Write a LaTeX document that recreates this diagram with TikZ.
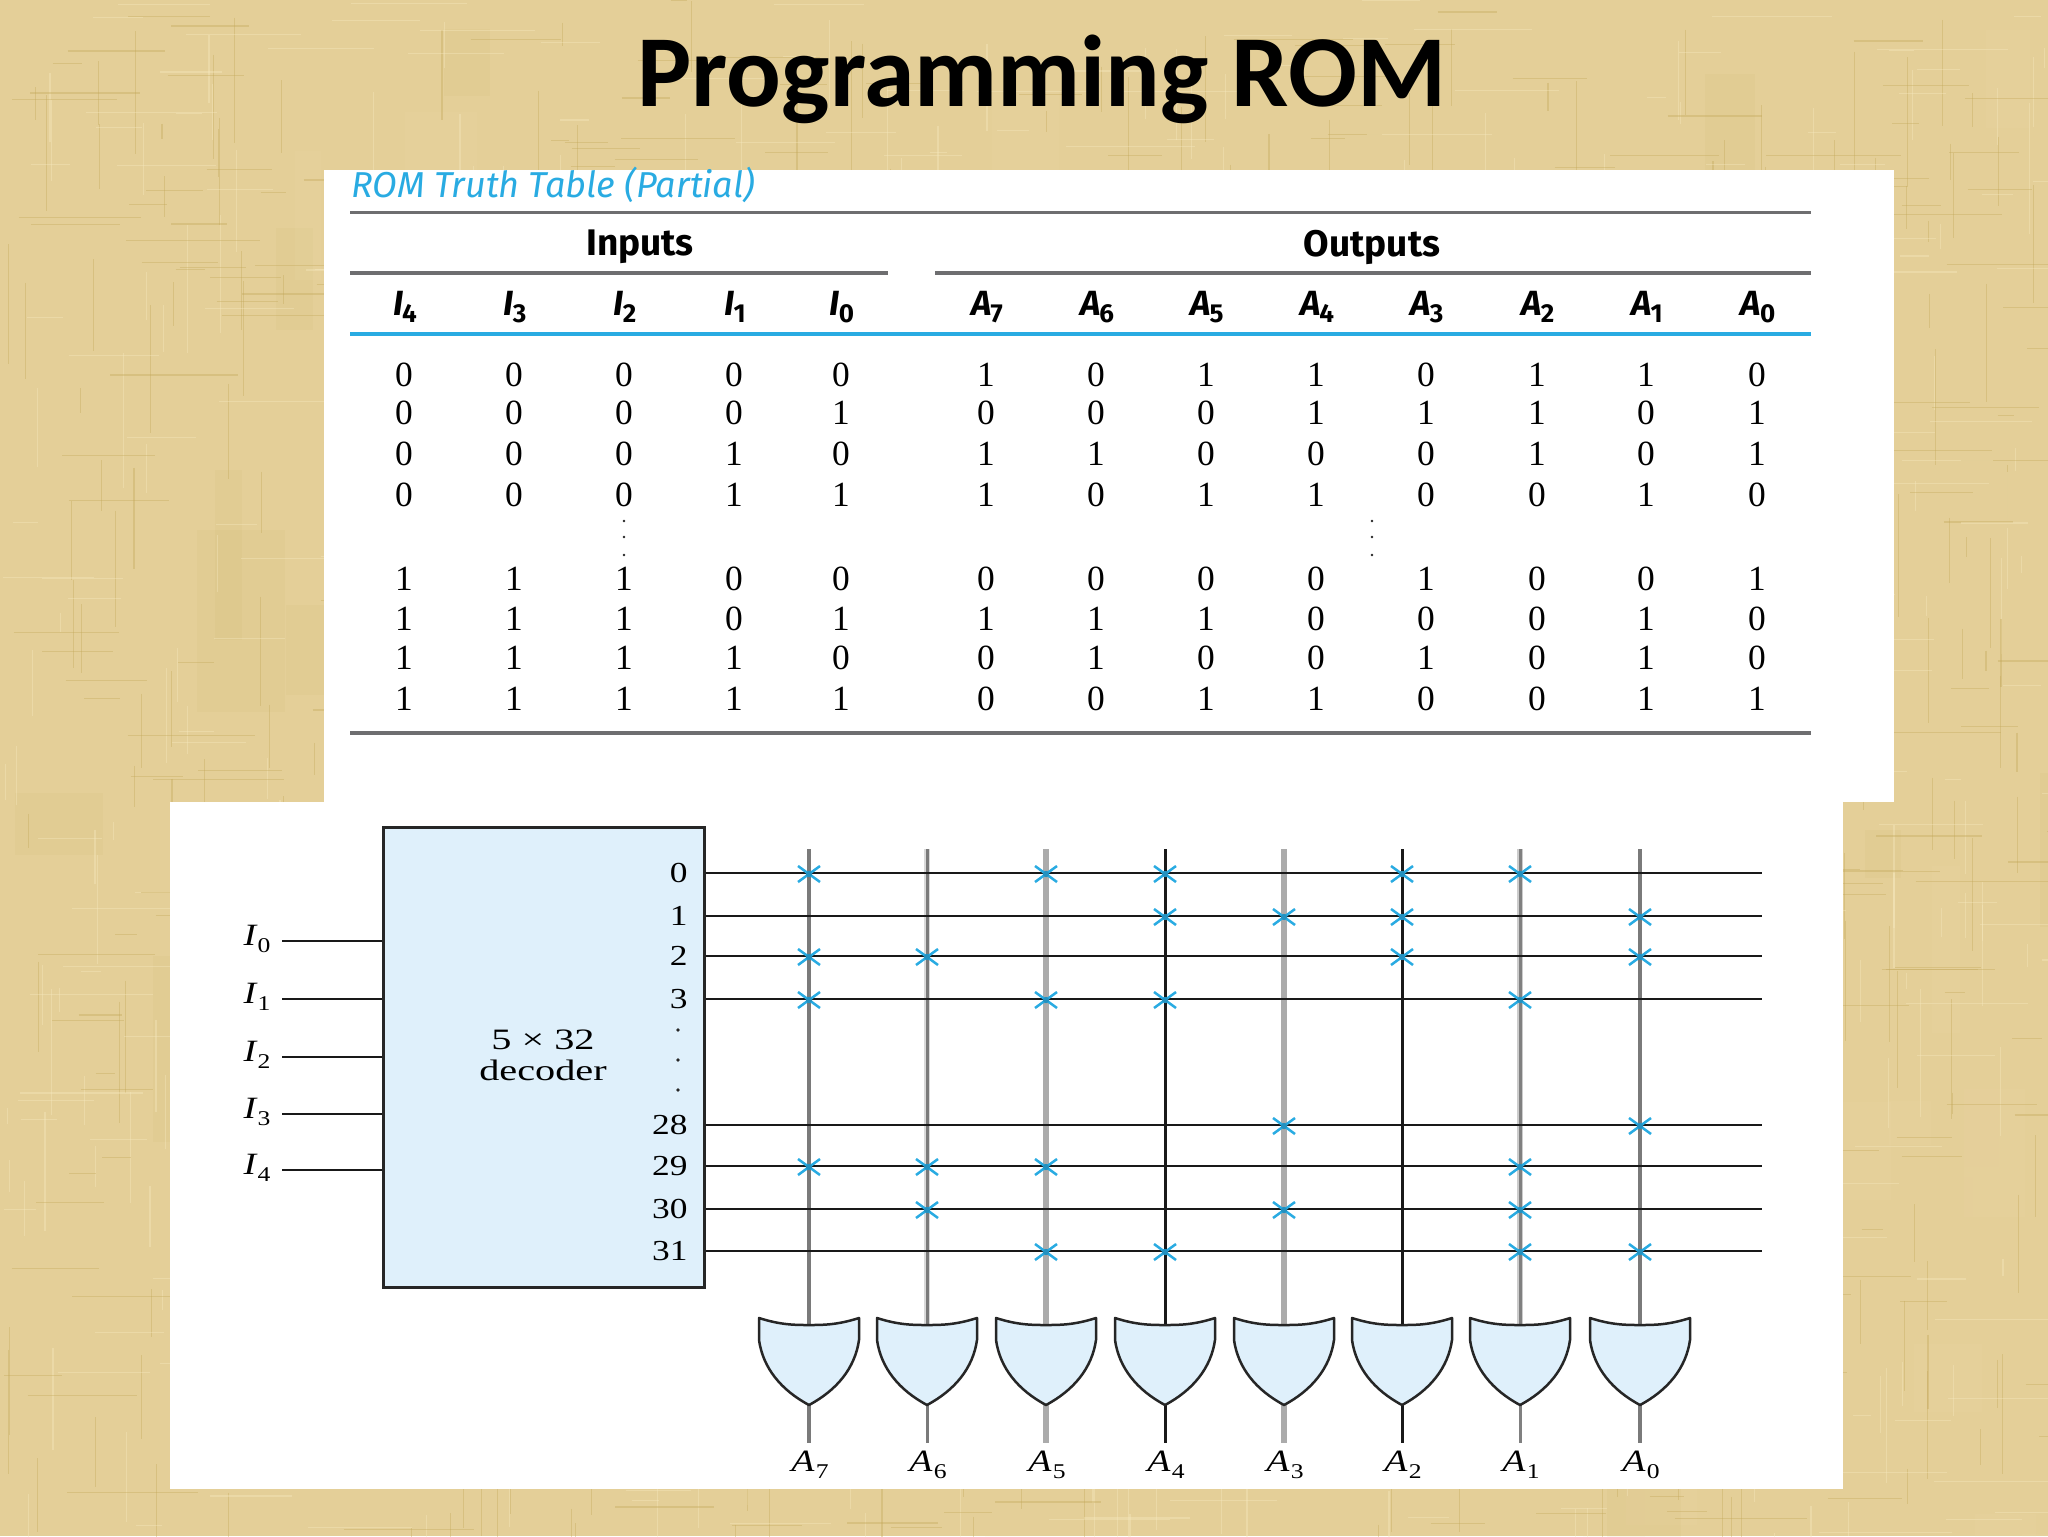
\documentclass[tikz,border=0pt]{standalone}
\usepackage{fontspec}
\newfontfamily\titlefont{Carlito}
\newfontfamily\headfont{Fira Sans}
\newfontfamily\digitfont{Liberation Serif}
\newfontfamily\wideserif[FakeStretch=1.22]{Liberation Serif}
\newfontfamily\widerserif[FakeStretch=1.36]{Liberation Serif}
\definecolor{paper}{HTML}{E4CF98}
\definecolor{paperdark}{HTML}{C4A85A}
\definecolor{paperlight}{HTML}{F7EAC0}
\definecolor{paperpink}{HTML}{EBCFA6}
\definecolor{bluefill}{HTML}{DFF0FB}
\definecolor{bookblue}{HTML}{29ABE2}
\definecolor{rulegray}{HTML}{6E6E70}
\newcommand*\headlabel[2]{{\headfont\fontsize{17.5}{19}\selectfont\bfseries\itshape #1\kern-.03em\raisebox{-.2em}{\upshape\fontsize{13}{14}\selectfont #2}}}
\newcommand*\seriflabel[2]{{\wideserif\fontsize{15.5}{17}\selectfont\itshape #1\kern.05em\raisebox{-.22em}{\upshape\fontsize{10.5}{12}\selectfont #2}}}
\tikzset{
  panel/.style={fill=white,draw=none},
  digit/.style={inner sep=0pt,font=\digitfont\fontsize{17.7}{20}\selectfont},
  sechead/.style={inner sep=0pt,font=\headfont\fontsize{18.5}{20}\selectfont\bfseries},
  tablerule/.style={draw=rulegray,line width=1.5pt},
  thickrule/.style={draw=rulegray,line width=2.2pt},
  bluerule/.style={draw=bookblue,line width=1.6pt},
  wire/.style={draw=black!90,line width=1.2pt},
  gate/.style={draw=black!85,line width=1.25pt,fill=bluefill,line join=round},
  crossmark/.style={draw=bookblue,line width=1.25pt},
  decnum/.style={inner sep=0pt,anchor=east,font=\wideserif\fontsize{14.5}{16}\selectfont},
  declabel/.style={inner sep=0pt,align=center,font=\widerserif\fontsize{14.8}{15.5}\selectfont},
  tickdot/.style={fill=black!85},
}
\begin{document}
\begin{tikzpicture}[x=0.5pt,y=-0.5pt]
\useasboundingbox (0,0) rectangle (2048,1536);
% textured backdrop
\fill[paper] (0,0) rectangle (2048,1536);
\pgfmathsetseed{20481}
\foreach \i in {1,...,90}{
  \pgfmathsetmacro\bx{rnd*2048}\pgfmathsetmacro\by{rnd*1536}
  \pgfmathsetmacro\bw{20+rnd*70}\pgfmathsetmacro\bh{40+rnd*160}
  \pgfmathtruncatemacro\bk{mod(\i,3)}
  \ifnum\bk=0 \def\bc{paperdark}\else\ifnum\bk=1 \def\bc{paperlight}\else\def\bc{paperpink}\fi\fi
  \fill[\bc,opacity=.07] (\bx,\by) rectangle ++(\bw,\bh);
}
\foreach \i in {1,...,800}{
  \pgfmathsetmacro\bx{rnd*2048}\pgfmathsetmacro\by{rnd*1536}\pgfmathsetmacro\bl{15+rnd*120}
  \pgfmathtruncatemacro\bk{mod(\i,2)}
  \ifnum\bk=0 \def\bc{paperdark}\else\def\bc{paperlight}\fi
  \draw[\bc,opacity=.38,line width=.55pt] (\bx,\by) -- ++(0,\bl);
}
\foreach \i in {1,...,800}{
  \pgfmathsetmacro\bx{rnd*2048}\pgfmathsetmacro\by{rnd*1536}\pgfmathsetmacro\bl{15+rnd*120}
  \pgfmathtruncatemacro\bk{mod(\i,2)}
  \ifnum\bk=0 \def\bc{paperdark}\else\def\bc{paperlight}\fi
  \draw[\bc,opacity=.38,line width=.55pt] (\bx,\by) -- ++(\bl,0);
}
% title
\node[inner sep=0pt,anchor=base,font=\titlefont\fontsize{51}{54}\selectfont\bfseries] (title) at (1042,106) {Programming ROM};
% panels
\fill[panel] (324,170) rectangle (1894,802);
\fill[panel] (170,802) rectangle (1843,1489);
% table
\node[inner sep=0pt,anchor=west,text=bookblue,font=\headfont\fontsize{18}{20}\selectfont\itshape] (tabtitle) at (351,185) {ROM Truth Table (Partial)};
\coordinate (rA) at (350,212); \coordinate (rB) at (1811,212);
\draw[tablerule] (rA) -- (rB);
\node[sechead] (inputs) at (640,247) {Inputs};
\node[sechead] (outputs) at (1372,247) {Outputs};
\coordinate (rC) at (350,273); \coordinate (rD) at (888,273);
\coordinate (rE) at (935,273); \coordinate (rF) at (1811,273);
\draw[thickrule] (rC) -- (rD);
\draw[thickrule] (rE) -- (rF);
\def\colx{{404,514,624,734,841,986,1096,1206,1316,1426,1537,1646,1757}}
\foreach \l/\s [count=\c] in {I/4,I/3,I/2,I/1,I/0,A/7,A/6,A/5,A/4,A/3,A/2,A/1,A/0}{
  \pgfmathsetmacro\xx{\colx[\c-1]}
  \node[inner sep=0pt] (hd\c) at (\xx+1,307) {\headlabel{\l}{\s}};
}
\coordinate (rG) at (350,334); \coordinate (rH) at (1811,334);
\draw[bluerule] (rG) -- (rH);
\foreach \yy/\bits [count=\r] in {
  375/{0,0,0,0,0,1,0,1,1,0,1,1,0},
  413/{0,0,0,0,1,0,0,0,1,1,1,0,1},
  454/{0,0,0,1,0,1,1,0,0,0,1,0,1},
  495/{0,0,0,1,1,1,0,1,1,0,0,1,0},
  579/{1,1,1,0,0,0,0,0,0,1,0,0,1},
  619/{1,1,1,0,1,1,1,1,0,0,0,1,0},
  658/{1,1,1,1,0,0,1,0,0,1,0,1,0},
  699/{1,1,1,1,1,0,0,1,1,0,0,1,1}}{
  \foreach \b [count=\c] in \bits {
    \pgfmathsetmacro\xx{\colx[\c-1]}
    \node[digit] (t\r-\c) at (\xx,\yy) {\b};
  }
}
\foreach \yy in {521,537,555}{
  \fill[tickdot] (624,\yy) circle (1.4);
  \fill[tickdot] (1372,\yy) circle (1.4);
}
\coordinate (rI) at (350,733); \coordinate (rJ) at (1811,733);
\draw[thickrule,line width=1.8pt] (rI) -- (rJ);
% decoder
\node[draw=black!85,line width=1.25pt,fill=bluefill,minimum width=160.5pt,minimum height=230pt,inner sep=0pt,anchor=north west] (dec) at (382,826) {};
\node[declabel] (declabel) at (543,1055) {5 × 32\\decoder};
% inputs
\foreach \n/\yy in {0/941,1/999,2/1057,3/1114,4/1170}{
  \coordinate (in\n) at (282,\yy);
  \node[inner sep=0pt] (Ilab\n) at (257,\yy-2) {\seriflabel{I}{\n}};
  \draw[wire] (in\n) -- (in\n -| dec.west);
}
% output columns
\foreach \n/\xx/\w/\uw/\colr/\under in {7/809/2.2/2.2/black!52/black!52,6/927/1.5/2.6/black!52/black!15,5/1046/3/3/black!33/black!33,4/1165/1.5/1.5/black!90/black!90,3/1284/3/3/black!33/black!33,2/1402/1.5/1.5/black!90/black!90,1/1520/1.5/2.6/black!50/black!20,0/1640/1.7/2/black!52/black!18}{
  \coordinate (vtop\n) at (\xx,849);
  \coordinate (gtop\n) at (\xx,1325);
  \coordinate (gtip\n) at (\xx,1405);
  \coordinate (vout\n) at (\xx,1443);
  \draw[\under,line width=\uw pt] (vtop\n) -- (gtop\n);
  \draw[\colr,line width=\w pt] (vtop\n) -- (gtop\n);
  \draw[\colr,line width=\w pt] (gtip\n) -- (vout\n);
  \filldraw[gate] (\xx-50,1318) .. controls (\xx-28,1325) and (\xx-14,1325) .. (gtop\n) .. controls (\xx+14,1325) and (\xx+28,1325) .. (\xx+50,1318) -- (\xx+50,1340) .. controls (\xx+46,1368) and (\xx+28,1390) .. (gtip\n) .. controls (\xx-28,1390) and (\xx-46,1368) .. (\xx-50,1340) -- cycle;
  \node[inner sep=0pt] (Alab\n) at (\xx+1,1465) {\seriflabel{A}{\n}};
}
% decoder output lines
\foreach \n/\yy in {0/873,1/916,2/956,3/999,28/1125,29/1166,30/1209,31/1251}{
  \coordinate (rowend\n) at (1762,\yy);
  \draw[wire] (rowend\n -| dec.east) -- (rowend\n);
  \node[decnum] (num\n) at (688,\yy) {\n};
}
\foreach \yy in {1030,1060,1090}{\fill[tickdot] (678,\yy) circle (1.8);}
% programmed crossings
\foreach \c/\rows in {7/{0,2,3,29},6/{2,29,30},5/{0,3,29,31},4/{0,1,3,31},3/{1,28,30},2/{0,1,2},1/{0,3,29,30,31},0/{1,2,28,31}}{
  \foreach \r in \rows {
    \coordinate (xc) at (vtop\c |- rowend\r);
    \draw[crossmark] ([shift={(-11,-7)}]xc) -- ([shift={(11,9)}]xc);
    \draw[crossmark] ([shift={(-11,9)}]xc) -- ([shift={(11,-7)}]xc);
    \fill[bookblue!85!black] ([yshift=-.5pt]xc) circle (3.2);
  }
}
\end{tikzpicture}
\end{document}
